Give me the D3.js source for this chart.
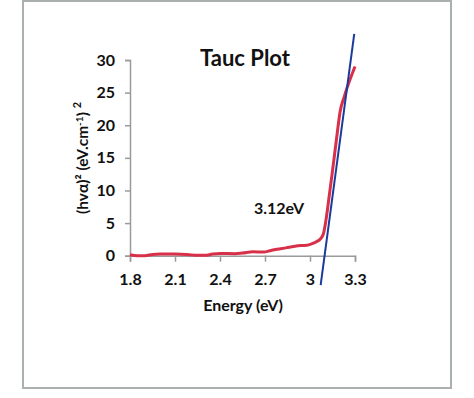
<!DOCTYPE html>
<html>
<head>
<meta charset="utf-8">
<script src="https://cdn.jsdelivr.net/npm/d3@7"></script>
<style>
  body { margin: 0; background: #fff; }
  text { font-family: Lato, "Open Sans", sans-serif; font-weight: bold; fill: #111; }
</style>
</head>
<body>
<script>
// Tauc plot data
var energy = [1.80, 1.85, 1.90, 1.95, 2.00, 2.10, 2.18, 2.25, 2.30, 2.35, 2.40, 2.50, 2.55, 2.62, 2.69, 2.74, 2.78, 2.84, 2.89, 2.94, 2.98, 3.01, 3.04, 3.07, 3.09, 3.11, 3.13, 3.15, 3.18, 3.20, 3.23, 3.27, 3.30];
var tauc   = [0.15, 0.0, 0.0, 0.2, 0.25, 0.25, 0.2, 0.05, 0.05, 0.25, 0.35, 0.3, 0.4, 0.6, 0.55, 0.8, 1.0, 1.2, 1.4, 1.55, 1.6, 1.8, 2.1, 2.6, 3.4, 6.0, 9.5, 13.0, 18.5, 22.0, 24.5, 27.2, 29.0];
// extrapolated linear fit (ends of the blue line)
var fitX = [3.071, 3.295];
var fitY = [-4.5, 34.0];
var xTicks = [1.8, 2.1, 2.4, 2.7, 3, 3.3];
var yTicks = [0, 5, 10, 15, 20, 25, 30];

var width = 474, height = 398;
var svg = d3.select("body").append("svg")
    .attr("width", width)
    .attr("height", height);

// outer frame
svg.append("rect")
   .attr("x", 23).attr("y", 1)
   .attr("width", 428).attr("height", 387)
   .attr("fill", "none")
   .attr("stroke", "#a9b0ae")
   .attr("stroke-width", 2);

var x = d3.scaleLinear().domain([1.8, 3.3]).range([130, 355]);
var y = d3.scaleLinear().domain([0, 30]).range([255.7, 60]);

var axisColor = "#9a9a9a";

// y axis
var gy = svg.append("g")
    .attr("transform", "translate(130,0)")
    .call(d3.axisLeft(y).tickValues(yTicks).tickSize(5).tickPadding(10));
gy.select(".domain").attr("stroke", axisColor).attr("stroke-width", 1.5);
gy.selectAll(".tick line").attr("stroke", axisColor).attr("stroke-width", 1.5);
gy.selectAll(".tick text").style("font-size", "16px").attr("fill", "#111");

// x axis
var gx = svg.append("g")
    .attr("transform", "translate(0,255.7)")
    .call(d3.axisBottom(x).tickValues(xTicks).tickSize(6).tickPadding(12)
        .tickFormat(function(d){ return d3.format("")(d); }));
gx.select(".domain").attr("stroke", axisColor).attr("stroke-width", 1.5);
gx.selectAll(".tick line").attr("stroke", axisColor).attr("stroke-width", 1.5);
gx.selectAll(".tick text").style("font-size", "16px").attr("fill", "#111");

// red measured curve
var pts = energy.map(function(e, i){ return [e, tauc[i]]; });
svg.append("path")
   .datum(pts)
   .attr("fill", "none")
   .attr("stroke", "#d9304a")
   .attr("stroke-width", 3)
   .attr("stroke-linejoin", "round")
   .attr("d", d3.line()
        .x(function(d){ return x(d[0]); })
        .y(function(d){ return y(d[1]); })
        .curve(d3.curveMonotoneX));

// blue fit line
svg.append("line")
   .attr("x1", x(fitX[0])).attr("y1", y(fitY[0]))
   .attr("x2", x(fitX[1])).attr("y2", y(fitY[1]))
   .attr("stroke", "#1a3a9c")
   .attr("stroke-width", 2);

// title
svg.append("text")
   .attr("x", 245).attr("y", 66)
   .attr("text-anchor", "middle")
   .style("font-size", "22px")
   .text("Tauc Plot");

// annotation
svg.append("text")
   .attr("x", 279).attr("y", 214)
   .attr("text-anchor", "middle")
   .style("font-size", "16px")
   .text("3.12eV");

// x label
svg.append("text")
   .attr("x", 243).attr("y", 311)
   .attr("text-anchor", "middle")
   .style("font-size", "16px")
   .text("Energy (eV)");

// y label
var yl = svg.append("text")
   .attr("transform", "translate(88,158) rotate(-90)")
   .attr("text-anchor", "middle")
   .style("font-size", "15.5px");
yl.append("tspan").text("(hv\u03b1)\u00b2 (eV.cm");
yl.append("tspan").attr("dy", -5).style("font-size", "10px").text("-1");
yl.append("tspan").attr("dy", 5).text(") ");
yl.append("tspan").attr("dy", -7).style("font-size", "11px").text("2");
</script>
</body>
</html>
